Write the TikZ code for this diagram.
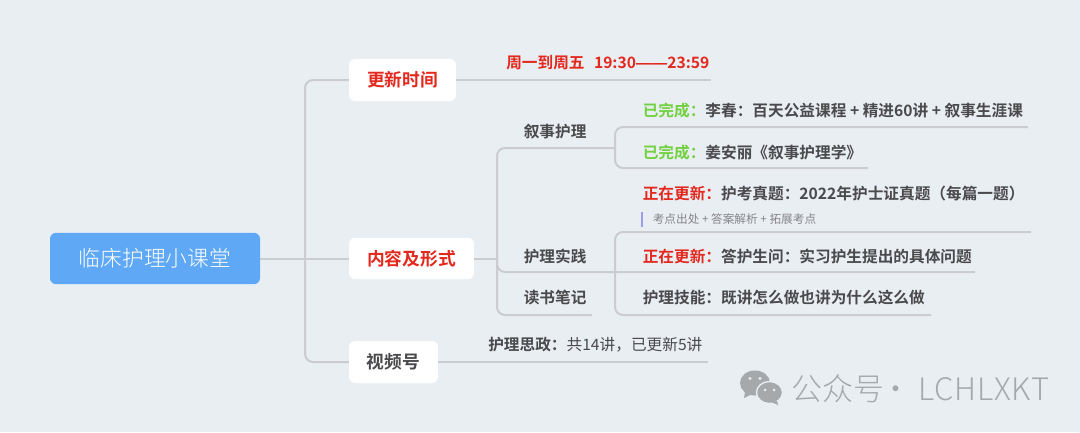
\documentclass[tikz,border=0pt]{standalone}
\usepackage{fontspec}
\setmainfont{Noto Sans CJK SC}[BoldFont={Noto Sans CJK SC Bold}]
\newfontfamily\wmfont{Noto Sans CJK SC Light}
\newfontfamily\dashfont{Liberation Sans}
\usetikzlibrary{calc}
\definecolor{bgc}{HTML}{E9EEF3}
\definecolor{linec}{HTML}{CBCCD0}
\definecolor{rootc}{HTML}{5FA8F5}
\definecolor{redc}{HTML}{E3281E}
\definecolor{greenc}{HTML}{72D13E}
\definecolor{darkc}{HTML}{4A4A4C}
\definecolor{notec}{HTML}{858587}
\definecolor{barc}{HTML}{9C9CE8}
\definecolor{wmc}{HTML}{A6A9AB}
\newcommand{\sz}[1]{\fontsize{#1}{#1}\selectfont}
\newcommand{\rd}[1]{\textcolor{redc}{#1}}
\newcommand{\gr}[1]{\textcolor{greenc}{#1}}
\tikzset{
  x=0.75pt,y=-0.75pt,
  conn/.style={draw=linec,line width=1.5pt,rounded corners=6pt},
  leaf/.style={anchor=west,inner sep=0pt,text=darkc,font=\sz{11.75}\bfseries},
  mainbox/.style={fill=white,rounded corners=4.5pt,inner sep=0pt,font=\sz{13.3}\bfseries},
}
\begin{document}
\begin{tikzpicture}
\path[use as bounding box,fill=bgc] (0,0) rectangle (1080,432);

\coordinate (t1) at (305,80);
\coordinate (t2) at (305,362);
\coordinate (b1) at (497,148);
\coordinate (b2) at (497,315);
\coordinate (e1) at (592,315);
\coordinate (b3) at (497,272);
\coordinate (b4) at (497,255);
\coordinate (j1) at (615,148);
\coordinate (u1) at (615,127);
\coordinate (u2) at (1028,127);
\coordinate (u3) at (615,168);
\coordinate (u4) at (868,168);
\coordinate (u5) at (615,232);
\coordinate (u6) at (1031,232);
\coordinate (u7) at (615,315);
\coordinate (u8) at (931,315);
\coordinate (u9) at (975,272);
\coordinate (e2) at (711,80);
\coordinate (e3) at (708,362);

\node[fill=rootc,rounded corners=4.5pt,text=white,minimum width=157.5pt,minimum height=38.5pt,inner sep=0pt,font=\wmfont\sz{16.3}] (root) at (155,258.5) {临床护理小课堂};
\node[mainbox,minimum width=80.2pt,minimum height=31.5pt,text=redc] (upd) at (402.5,80) {更新时间};
\node[mainbox,minimum width=93.7pt,minimum height=31pt,text=redc] (con) at (411.5,258.5) {内容及形式};
\node[mainbox,minimum width=66.7pt,minimum height=31.5pt,text=darkc] (vid) at (393.5,362) {视频号};

\draw[conn] (root.east) -- (con.west);
\draw[conn] (upd.west) -- (t1) -- (t2) -- (vid.west);
\draw[conn] (upd.east) -- (e2);
\draw[conn] (vid.east) -- (e3);
\draw[conn] (con.east) -- (con.east -| b1);
\draw[conn] (j1) -- (b1) -- (b2) -- (e1);
\draw[conn] (b4) -- (b3) -- (u9);
\draw[conn] (u2) -- (u1) -- (u3) -- (u4);
\draw[conn] (u6) -- (u5) -- (u7) -- (u8);

\node[leaf,text=redc] (tm) at (506,62.5) {周一到周五\hspace{0.6em}19:30{\dashfont ——}23:59};
\node[leaf] (n1) at (523.5,131.5) {叙事护理};
\node[leaf] (n2) at (523.5,256.5) {护理实践};
\node[leaf] (n3) at (523.5,297.5) {读书笔记};
\node[leaf] (l1) at (642.5,110.5) {\gr{已完成：}李春：百天公益课程 + 精进60讲 + 叙事生涯课};
\node[leaf] (l2) at (642.5,152.5) {\gr{已完成：}姜安丽《叙事护理学》};
\node[leaf] (l3) at (642.5,193.5) {\rd{正在更新：}护考真题：2022年护士证真题（每篇一题）};
\node[anchor=west,inner sep=0pt,text=notec,font=\sz{8.75}] (l4) at (652.5,219) {考点出处 + 答案解析 + 拓展考点};
\node[leaf] (l5) at (642.5,256.5) {\rd{正在更新：}答护生问：实习护生提出的具体问题};
\node[leaf] (l6) at (642.5,297.5) {护理技能：既讲怎么做也讲为什么这么做};
\node[leaf] (l7) at (488,344.5) {护理思政：\mdseries 共14讲，已更新5讲};
\fill[barc] (641,212) rectangle (643,227);

\fill[wmc] (755,383) ellipse[x radius=15,y radius=12.5];
\fill[wmc] (745,392) -- (744,398) -- (752,394) -- cycle;
\fill[wmc,draw=bgc,line width=1pt] (769.5,392.5) ellipse[x radius=13,y radius=11];
\fill[wmc] (777,401) -- (778,405) -- (771,402) -- cycle;
\fill[bgc] (750,378.5) circle[radius=1.7] (760,378.5) circle[radius=1.7];
\fill[bgc] (765,390) circle[radius=1.5] (774,390) circle[radius=1.5];
\node[anchor=west,inner sep=0pt,text=wmc,font=\wmfont\sz{23.2}] (wm) at (791,389) {公众号\hspace{-0.1em}·\hspace{0.2em}\addfontfeature{LetterSpace=2.5}LCHLXKT};
\end{tikzpicture}
\end{document}
